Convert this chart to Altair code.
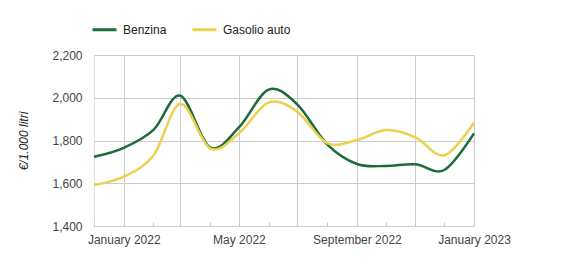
import altair as alt
import pandas as pd

months = ["2021-12-01", "2022-01-01", "2022-02-01", "2022-03-01", "2022-04-01",
          "2022-05-01", "2022-06-01", "2022-07-01", "2022-08-01", "2022-09-01",
          "2022-10-01", "2022-11-01", "2022-12-01", "2023-01-01"]
benzina = [1724, 1766, 1850, 2010, 1768, 1861, 2038, 1968, 1782, 1690, 1681, 1689, 1662, 1833]
gasolio = [1592, 1631, 1730, 1972, 1763, 1833, 1978, 1934, 1788, 1802, 1849, 1815, 1731, 1883]
series_names = ["Benzina", "Gasolio auto"]
series_colors = ["#1e6b3a", "#ead24f"]
y_ticks = [1400, 1500, 1600, 1700, 1800, 1900, 2000, 2100, 2200]

rows = []
for m, b, g in zip(months, benzina, gasolio):
    rows.append({"date": m + "T00:00:00", "series": series_names[0], "value": b})
    rows.append({"date": m + "T00:00:00", "series": series_names[1], "value": g})
df = pd.DataFrame(rows)

month_vals = [alt.DateTime(year=int(m[:4]), month=int(m[5:7]), date=1) for m in months]
x_scale = alt.Scale(domain=[month_vals[0], month_vals[-1]], nice=False)
FONT = "Liberation Sans"

x_axis_main = alt.Axis(
    values=month_vals, title=None, orient="bottom",
    labelExpr="month(datum.value) % 4 == 0 ? timeFormat(datum.value, '%B %Y') : ''",
    labelOverlap=False, labelFlush=False, labelBound=False,
    labelFont=FONT, labelFontSize=12, labelColor="#444444",
    labelPadding=8, ticks=False, tickSize=0, domain=False,
    grid=True, gridColor="#cccccc", gridWidth=1,
    gridOpacity={"condition": {"test": "month(datum.value) % 2 == 0", "value": 1}, "value": 0},
)

x_axis_ticks = alt.Axis(
    values=month_vals, title=None, orient="bottom", labels=False, domain=False,
    grid=False, ticks=True, tickSize=4, tickColor="#cccccc", offset=-4,
)

y_axis = alt.Axis(
    values=y_ticks, title="€/1.000 litri",
    labelExpr="datum.value % 200 == 0 ? format(datum.value, ',') : ''",
    labelFont=FONT, labelFontSize=12, labelColor="#444444", labelPadding=12,
    ticks=False, tickSize=0, domain=False,
    gridColor={"condition": {"test": "datum.value % 200 == 0", "value": "#cccccc"}, "value": "#e6e6e6"},
    titleFont=FONT, titleFontSize=12, titleFontStyle="italic", titleFontWeight="normal",
    titleColor="#222222", titlePadding=21,
)

color = alt.Color(
    "series:N",
    scale=alt.Scale(domain=series_names, range=series_colors),
    legend=alt.Legend(
        title=None, orient="none", legendX=-3, legendY=-39, direction="horizontal",
        symbolType="stroke", symbolSize=576, symbolStrokeWidth=3,
        labelFont=FONT, labelFontSize=12, labelColor="#222222",
        labelOffset=5, columnPadding=19,
    ),
)

lines = alt.Chart(df).mark_line(interpolate="cardinal", strokeWidth=2.5).encode(
    x=alt.X("date:T", scale=x_scale, axis=x_axis_main),
    y=alt.Y("value:Q", scale=alt.Scale(domain=[1400, 2200], nice=False), axis=y_axis),
    color=color,
)

tick_layer = alt.Chart(df).mark_point(opacity=0).encode(
    x=alt.X("date:T", scale=x_scale, axis=x_axis_ticks),
    y=alt.Y("value:Q"),
)

chart = alt.layer(lines, tick_layer).resolve_axis(x="independent").properties(
    width=380, height=171,
    padding={"left": 94, "top": 55, "right": 95, "bottom": 54},
    autosize=alt.AutoSizeParams(type="none"),
).configure_view(stroke=None).configure(background="white")

chart.save("out.html", embed_options={"renderer": "svg", "actions": False})
